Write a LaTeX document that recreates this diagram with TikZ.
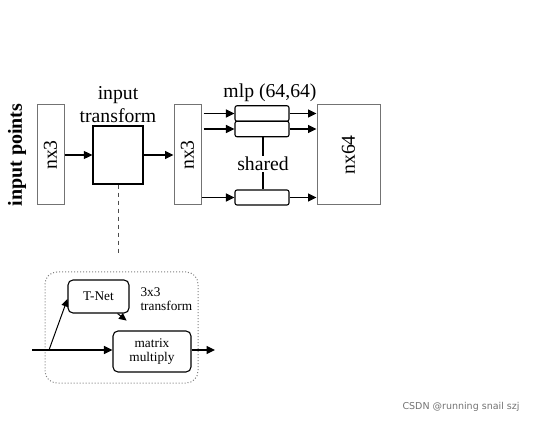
\documentclass[tikz,border=0pt]{standalone}
\usepackage{fontspec}
\setmainfont{Liberation Serif}
\newfontfamily\wmfont{DejaVu Sans}
\usetikzlibrary{arrows.meta}
\begin{document}
\begin{tikzpicture}[x=1pt,y=-1pt,
  big/.style={font=\fontsize{19.7}{23}\selectfont},
  small/.style={font=\fontsize{13.3}{14.5}\selectfont},
  graybox/.style={draw=black!55,line width=1pt,inner sep=0pt},
  blackbox/.style={draw=black,line width=1.2pt,inner sep=0pt},
  mlpbox/.style={draw=black,line width=1.1pt,rounded corners=2pt,inner sep=0pt},
  rbox/.style={draw=black,line width=1.1pt,rounded corners=5pt,inner sep=0pt},
  arr/.style={line width=1.1pt,-{Triangle[length=8.5pt,width=8pt]}},
  sarr/.style={line width=1pt,-{Triangle[length=7.5pt,width=7pt]}}]
\useasboundingbox (0,0) rectangle (536,422);
% top row
\node[rotate=90,font=\bfseries\fontsize{20}{24}\selectfont] (ip) at (17,155) {input points};
\node[graybox,minimum width=27pt,minimum height=100pt] (a) at (50.5,155) {};
\node[big,rotate=90] (at) at (a) {nx3};
\node[blackbox,minimum width=50pt,minimum height=58pt] (t) at (118,155) {};
\node[big,align=center] (tl) at (118,104.5) {input\\transform};
\node[graybox,minimum width=27pt,minimum height=100pt] (b) at (187.5,155) {};
\node[big,rotate=90] (bt) at (b) {nx3};
\node[mlpbox,minimum width=54pt,minimum height=15.5pt] (m1) at (262,113.5) {};
\node[mlpbox,minimum width=54pt,minimum height=15.5pt] (m2) at (262,129) {};
\node[mlpbox,minimum width=54pt,minimum height=15pt] (m3) at (262,197.5) {};
\node[big] (ml) at (270,93) {mlp (64,64)};
\node[big,fill=white,inner sep=1pt] (sh) at (263,164) {shared};
\node[graybox,minimum width=63pt,minimum height=100pt] (c) at (348.5,155) {};
\node[big,rotate=90] (ct) at (c) {nx64};
\draw[arr] (a.east |- t) -- (t.west);
\draw[arr] (t.east) -- (b.west |- t);
\draw[arr] ([xshift=2pt]b.east |- m1) -- (m1.west);
\draw[arr] ([xshift=2pt]b.east |- m2) -- (m2.west);
\draw[arr] (b.east |- m3) -- (m3.west);
\draw[arr] (m1.east) -- (c.west |- m1);
\draw[arr] (m2.east) -- (c.west |- m2);
\draw[arr] (m3.east) -- (c.west |- m3);
\draw[line width=1.1pt] (m2.south -| sh) -- (sh.north);
\draw[line width=1.1pt] (sh.south) -- (m3.north -| sh);
% dashed link
\coordinate (dend) at (118,255);
\draw[line width=0.8pt,black!70,dash pattern=on 4pt off 4pt] (t.south) -- (dend);
% lower detail
\node[draw=black!50,dotted,line width=1pt,rounded corners=12pt,minimum width=153pt,minimum height=111pt,inner sep=0pt] (frame) at (121.5,327.5) {};
\node[rbox,small,minimum width=61pt,minimum height=33pt] (tn) at (98.5,296.5) {T-Net};
\node[small,align=left,anchor=west] (tt) at (137,299) {3x3\\transform};
\node[rbox,small,align=center,minimum width=78pt,minimum height=41pt] (mm) at (152,351.5) {matrix\\multiply};
\coordinate (in) at (32,350);
\coordinate (br) at (49,350);
\coordinate (out) at (215,350);
\draw[arr] (in) -- (mm.west |- in);
\draw[sarr] (br) -- (tn.west |- 0,299);
\draw[sarr] ([xshift=-12pt]tn.south east) -- ++(9,7);
\draw[arr] (mm.east |- in) -- (out);
% watermark
\node[font=\wmfont\fontsize{9.5}{11}\selectfont,text=black!55] (wm) at (461,407) {CSDN @running snail szj};
\end{tikzpicture}
\end{document}
